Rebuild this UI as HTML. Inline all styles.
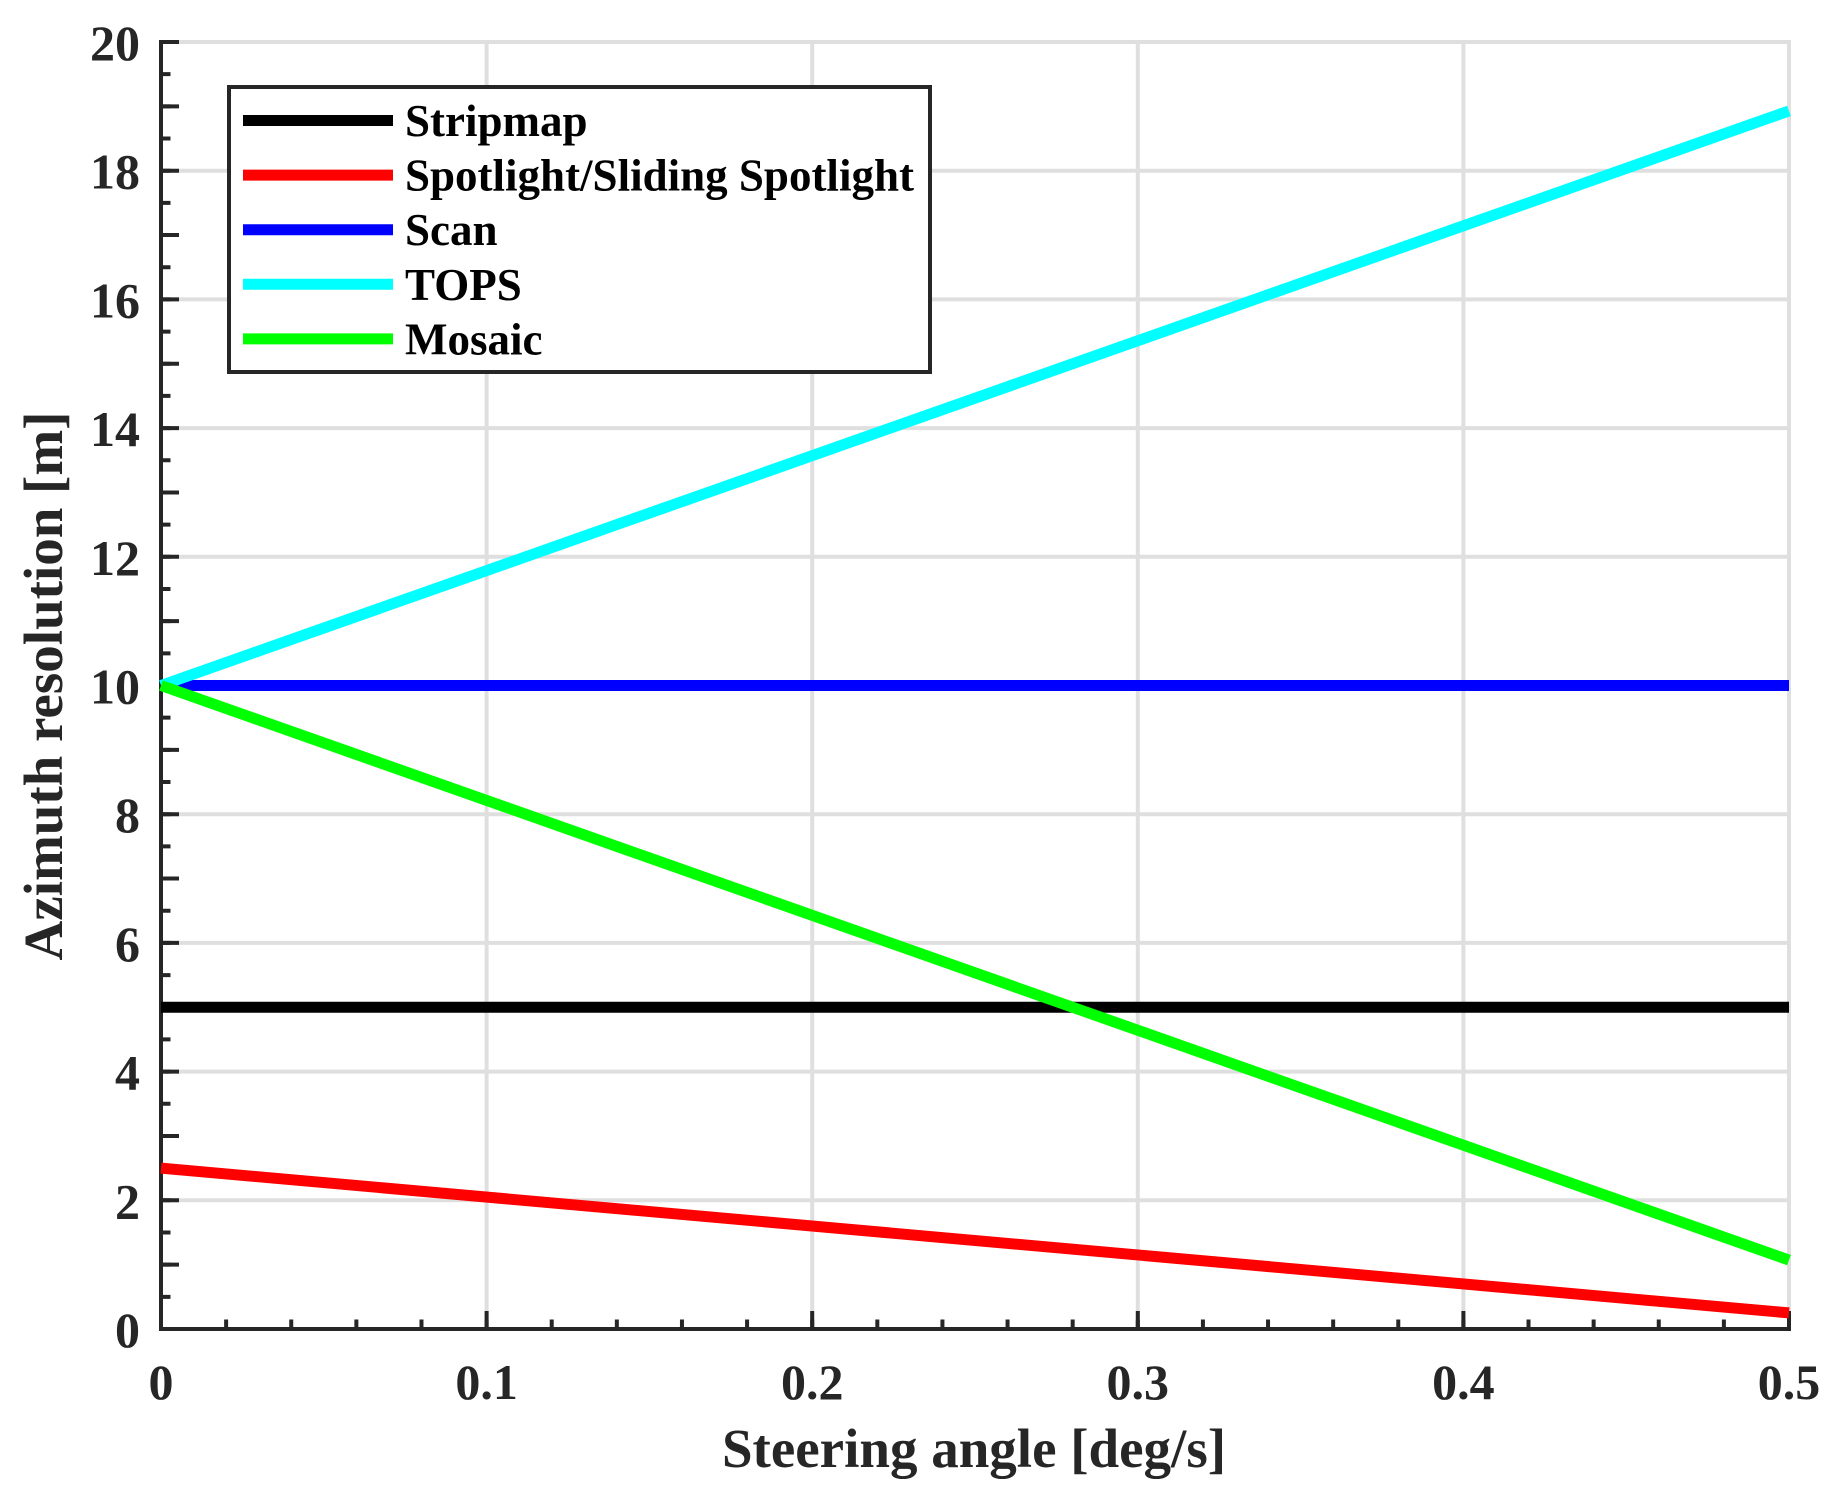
<!DOCTYPE html>
<html>
<head>
<meta charset="utf-8">
<style>
  html, body { margin: 0; padding: 0; background: #ffffff; }
  svg { display: block; }
  text { font-family: "Liberation Serif", "Times New Roman", serif; font-weight: bold; }
</style>
</head>
<body>
<svg width="1835" height="1499" viewBox="0 0 1835 1499" xmlns="http://www.w3.org/2000/svg">
  <rect x="0" y="0" width="1835" height="1499" fill="#ffffff"/>

  <!-- Grid -->
  <g stroke="#dfdfdf" stroke-width="4" fill="none">
    <line x1="486.6" y1="42" x2="486.6" y2="1329"/>
    <line x1="812.2" y1="42" x2="812.2" y2="1329"/>
    <line x1="1137.8" y1="42" x2="1137.8" y2="1329"/>
    <line x1="1463.4" y1="42" x2="1463.4" y2="1329"/>
    <line x1="1789" y1="40" x2="1789" y2="1329"/>
    <line x1="161" y1="1200.3" x2="1789" y2="1200.3"/>
    <line x1="161" y1="1071.6" x2="1789" y2="1071.6"/>
    <line x1="161" y1="942.9" x2="1789" y2="942.9"/>
    <line x1="161" y1="814.2" x2="1789" y2="814.2"/>
    <line x1="161" y1="685.5" x2="1789" y2="685.5"/>
    <line x1="161" y1="556.8" x2="1789" y2="556.8"/>
    <line x1="161" y1="428.1" x2="1789" y2="428.1"/>
    <line x1="161" y1="299.4" x2="1789" y2="299.4"/>
    <line x1="161" y1="170.7" x2="1789" y2="170.7"/>
    <line x1="161" y1="42" x2="1791" y2="42"/>
  </g>

  <!-- Axes -->
  <g stroke="#262626" fill="none">
    <line x1="161" y1="40" x2="161" y2="1331" stroke-width="4"/>
    <line x1="159" y1="1329" x2="1791" y2="1329" stroke-width="4"/>
    <!-- y minor ticks -->
    <line x1="165.75" y1="1331" x2="165.75" y2="40" stroke-width="9.5" stroke-dasharray="4 28.175"/>
    <!-- y major ticks -->
    <line x1="170" y1="1331" x2="170" y2="40" stroke-width="18" stroke-dasharray="4 60.35"/>
    <!-- x minor ticks -->
    <line x1="159" y1="1324.25" x2="1791" y2="1324.25" stroke-width="9.5" stroke-dasharray="4 61.12"/>
    <!-- x major ticks -->
    <line x1="159" y1="1320" x2="1791" y2="1320" stroke-width="18" stroke-dasharray="4 321.6"/>
  </g>

  <!-- Y tick labels -->
  <g fill="#262626" font-size="50" text-anchor="end">
    <text x="140" y="1347">0</text>
    <text x="140" y="1218.3">2</text>
    <text x="140" y="1089.6">4</text>
    <text x="140" y="960.9">6</text>
    <text x="140" y="832.2">8</text>
    <text x="140" y="703.5">10</text>
    <text x="140" y="574.8">12</text>
    <text x="140" y="446.1">14</text>
    <text x="140" y="317.4">16</text>
    <text x="140" y="188.7">18</text>
    <text x="140" y="60">20</text>
  </g>

  <!-- X tick labels -->
  <g fill="#262626" font-size="50" text-anchor="middle">
    <text x="161" y="1399">0</text>
    <text x="486.6" y="1399">0.1</text>
    <text x="812.2" y="1399">0.2</text>
    <text x="1137.8" y="1399">0.3</text>
    <text x="1463.4" y="1399">0.4</text>
    <text x="1789" y="1399">0.5</text>
  </g>

  <!-- Axis labels -->
  <text x="974" y="1467" font-size="55" fill="#262626" text-anchor="middle">Steering angle [deg/s]</text>
  <text transform="translate(62,686) rotate(-90)" font-size="55" fill="#262626" text-anchor="middle">Azimuth resolution [m]</text>

  <!-- Data series -->
  <g stroke-width="11" stroke-linecap="butt" fill="none">
    <line x1="161" y1="1007.25" x2="1789" y2="1007.25" stroke="#000000"/>
    <line x1="161" y1="1168.1" x2="1789" y2="1312.9" stroke="#ff0000"/>
    <line x1="161" y1="685.5" x2="1789" y2="685.5" stroke="#0000ff"/>
    <line x1="161" y1="685.5" x2="1789" y2="110.9" stroke="#00ffff"/>
    <line x1="161" y1="685.5" x2="1789" y2="1260.1" stroke="#00ff00"/>
  </g>

  <!-- Legend -->
  <rect x="229" y="87" width="701" height="285" fill="#ffffff" stroke="#262626" stroke-width="4"/>
  <g stroke-width="11" fill="none">
    <line x1="243" y1="120.5" x2="393" y2="120.5" stroke="#000000"/>
    <line x1="243" y1="175.1" x2="393" y2="175.1" stroke="#ff0000"/>
    <line x1="243" y1="229.7" x2="393" y2="229.7" stroke="#0000ff"/>
    <line x1="243" y1="284.3" x2="393" y2="284.3" stroke="#00ffff"/>
    <line x1="243" y1="338.9" x2="393" y2="338.9" stroke="#00ff00"/>
  </g>
  <g fill="#000000" font-size="45">
    <text x="405" y="136">Stripmap</text>
    <text x="405" y="190.6">Spotlight/Sliding Spotlight</text>
    <text x="405" y="245.2">Scan</text>
    <text x="405" y="299.8">TOPS</text>
    <text x="405" y="354.4">Mosaic</text>
  </g>
</svg>
</body>
</html>
